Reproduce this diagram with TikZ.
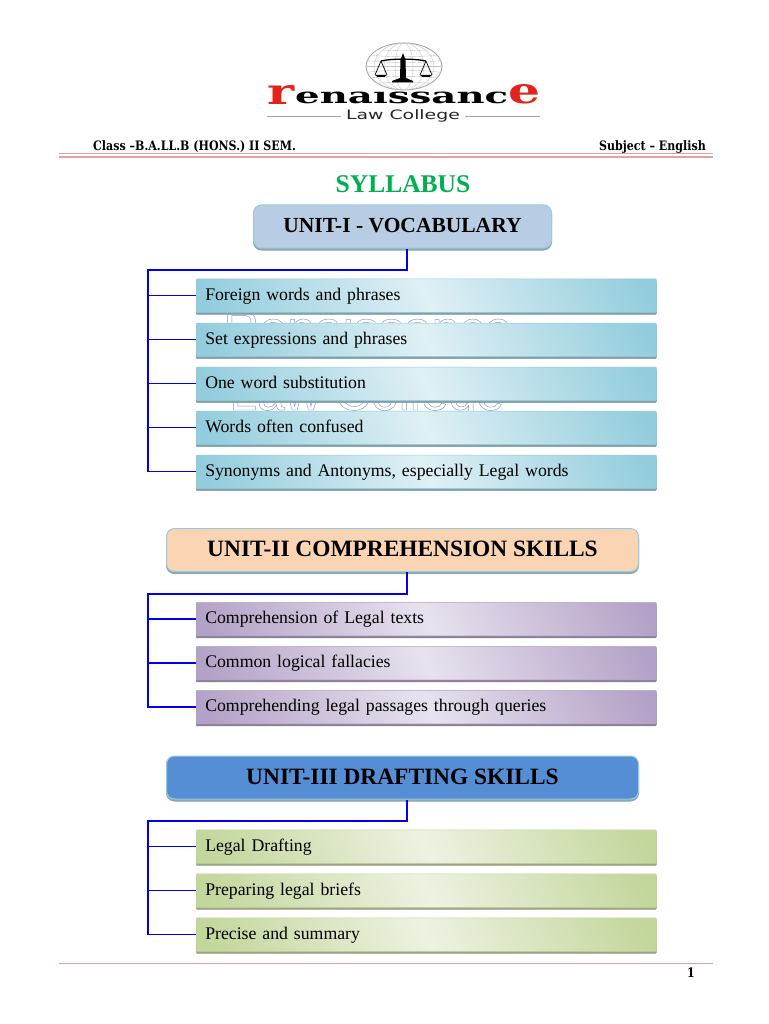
\documentclass[tikz,border=0pt]{standalone}
\usepackage{fontspec}
\usepackage{graphicx}
\setmainfont{Liberation Serif}
\newfontfamily\hdrfont[FakeStretch=0.85]{DejaVu Serif}
\newfontfamily\logofont{DejaVu Serif}
\newfontfamily\logosans{DejaVu Sans}
\newfontfamily\sansf{Liberation Sans}
\definecolor{wire}{RGB}{0,0,238}
\definecolor{rulepink}{RGB}{226,160,158}
\definecolor{aEnd}{RGB}{147,205,221}\definecolor{aMid}{RGB}{224,240,245}\definecolor{aSh}{RGB}{128,158,168}
\definecolor{bEnd}{RGB}{179,162,199}\definecolor{bMid}{RGB}{232,226,238}\definecolor{bSh}{RGB}{140,128,152}
\definecolor{cEnd}{RGB}{195,214,155}\definecolor{cMid}{RGB}{237,242,226}\definecolor{cSh}{RGB}{155,165,132}
\definecolor{logored}{RGB}{225,35,25}
\pgfdeclareverticalshading{gradA}{100bp}{color(0bp)=(aEnd); color(19bp)=(aEnd); color(50bp)=(aMid); color(81bp)=(aEnd); color(100bp)=(aEnd)}
\pgfdeclareverticalshading{gradB}{100bp}{color(0bp)=(bEnd); color(19bp)=(bEnd); color(50bp)=(bMid); color(81bp)=(bEnd); color(100bp)=(bEnd)}
\pgfdeclareverticalshading{gradC}{100bp}{color(0bp)=(cEnd); color(19bp)=(cEnd); color(50bp)=(cMid); color(81bp)=(cEnd); color(100bp)=(cEnd)}
\newcommand{\outlinetext}[1]{\special{pdf:code q 1 Tr 0.45 w 0.5 0.58 0.78 RG}#1\special{pdf:code Q}}
\tikzset{
 wirepath/.style={draw=wire,line width=1.25pt},
 itembox/.style={rectangle,rounded corners=0.8pt,minimum width=460pt,minimum height=33.5pt,text width=442pt,inner xsep=9pt,inner ysep=0pt,
   anchor=west,align=left,text height=12.2pt,text depth=2.8pt,font=\fontsize{17.75}{20}\selectfont},
 shA/.style={itembox,draw=aEnd,line width=0.5pt,shade,shading=gradA,shading angle=115,
   preaction={fill=aSh,draw=aSh,transform canvas={yshift=-2pt}}},
 shB/.style={itembox,draw=bEnd,line width=0.5pt,shade,shading=gradB,shading angle=115,
   preaction={fill=bSh,draw=bSh,transform canvas={yshift=-2pt}}},
 shC/.style={itembox,draw=cEnd,line width=0.5pt,shade,shading=gradC,shading angle=115,
   preaction={fill=cSh,draw=cSh,transform canvas={yshift=-2pt}}},
 unitbox/.style={rectangle,rounded corners=8pt,minimum height=43pt,line width=1pt,draw=#1,inner sep=0pt,
   text height=15pt,text depth=2pt},
 unitshadow/.style={preaction={fill=#1,draw=#1,transform canvas={yshift=-2pt}}},
 hdr/.style={inner sep=0pt,font=\hdrfont\fontsize{13}{15}\bfseries\selectfont},
 wmark/.style={inner sep=0pt,anchor=base west,font=\sansf\fontsize{#1}{#1}\selectfont},
 logotxt/.style={inner sep=0pt,anchor=south west,font=\logofont\bfseries}
}
\begin{document}
\begin{tikzpicture}[x=1pt,y=-1pt]
\useasboundingbox (0,0) rectangle (768,1024);
\fill[white] (0,0) rectangle (768,1024);
% logo: globe
\begin{scope}
\draw[gray!70,line width=0.9pt] (404,66.5) ellipse [x radius=38,y radius=23.5];
\clip (404,66.5) ellipse [x radius=38,y radius=23.5];
\foreach \r in {9,20,30} {\draw[gray!45,line width=0.4pt] (404,66.5) ellipse [x radius=\r,y radius=23.5];}
\foreach \h in {6,12,18} {\draw[gray!45,line width=0.4pt] (366,66.5-\h) .. controls (390,66.5-\h+3) and (418,66.5-\h+3) .. (442,66.5-\h);
 \draw[gray!45,line width=0.4pt] (366,66.5+\h) .. controls (390,66.5+\h-3) and (418,66.5+\h-3) .. (442,66.5+\h);}
\draw[gray!45,line width=0.4pt] (366,66.5) -- (442,66.5);
\end{scope}
% logo: scales
\fill[black] (403,53) -- (405.5,60) -- (406,78) -- (413,81) -- (413,82.5) -- (392,82.5) -- (392,81) -- (400,78) -- (400.5,60) -- cycle;
\draw[black,line width=1.3pt] (381,61) .. controls (392,58.5) and (414,58.5) .. (426,61);
\draw[black,line width=0.7pt] (381,61) -- (375,75) (381,61) -- (387,75) (426,61) -- (420,75) (426,61) -- (432,75);
\fill[black] (375,75) -- (387,75) -- (384.5,77) -- (377.5,77) -- cycle;
\fill[black] (420,75) -- (432,75) -- (429.5,77) -- (422.5,77) -- cycle;
% logo: wordmark
\node[logotxt,text=logored] (logoR) at (267,104.5) {\resizebox{27pt}{19pt}{r}};
\node[logotxt,text=black] (logoMid) at (295,104.5) {\resizebox{213pt}{11.5pt}{enaıssanc}};
\node[logotxt,text=logored] (logoE) at (508,104.5) {\resizebox{32pt}{19pt}{e}};
\node[inner sep=0pt,font=\logosans\fontsize{13}{15}\selectfont,text=black!85] (logoLaw) at (403,116) {\scalebox{1.45}[1]{Law College}};
\coordinate (lawL) at (267,116);
\coordinate (lawR) at (540,116);
\draw[gray!70,line width=0.6pt] (lawL) -- ([xshift=-5pt]logoLaw.west);
\draw[gray!70,line width=0.6pt] ([xshift=5pt]logoLaw.east) -- (lawR);
% header
\node[hdr,anchor=base west] (hl) at (93,150.5) {Class –B.A.LL.B (HONS.) II SEM.};
\node[hdr,anchor=base east] (hr) at (706,150.5) {Subject – English};
\draw[rulepink,line width=1pt] (59,153.7) -- (713,153.7);
\draw[rulepink,line width=1.6pt] (59,157) -- (713,157);
\node[inner sep=0pt,font=\fontsize{25.5}{28}\bfseries\selectfont,text={rgb,255:red,0;green,176;blue,80}] (syl) at (403,184) {SYLLABUS};
% watermark
\node[wmark=50] (wmA) at (223,346) {\outlinetext{Renaissance}};
\node[wmark=50] (wmB) at (229,410) {\outlinetext{Law College}};
% unit I
\node[unitbox=aEnd,unitshadow=aSh!90,font=\fontsize{21.5}{24}\bfseries\selectfont,fill={rgb,255:red,184;green,204;blue,228},minimum width=298pt] (u1) at (402.5,226.5) {UNIT-I - VOCABULARY};
\node[shA] (a1) at (196,295.7) {Foreign words and phrases};
\node[shA] (a2) at (196,339.8) {Set expressions and phrases};
\node[shA] (a3) at (196,383.8) {One word substitution};
\node[shA] (a4) at (196,427.8) {Words often confused};
\node[shA] (a5) at (196,471.8) {Synonyms and Antonyms, especially Legal words};
\coordinate (t1) at (148,270);
\draw[wirepath] ([xshift=4.5pt]u1.south) |- (t1) -- (t1 |- a5.west) -- (a5.west);
\foreach \n in {a1,a2,a3,a4} {\draw[wirepath] (t1 |- \n.west) -- (\n.west);}
% unit II
\node[unitbox=aEnd,unitshadow=aSh!90,font=\fontsize{23.4}{26}\bfseries\selectfont,fill={rgb,255:red,251;green,212;blue,180},minimum width=472pt] (u2) at (402.5,550) {UNIT-II COMPREHENSION SKILLS};
\node[shB] (b1) at (196,619) {Comprehension of Legal texts};
\node[shB] (b2) at (196,663) {Common logical fallacies};
\node[shB] (b3) at (196,707) {Comprehending legal passages through queries};
\coordinate (t2) at (148,594);
\draw[wirepath] ([xshift=4.5pt]u2.south) |- (t2) -- (t2 |- b3.west) -- (b3.west);
\foreach \n in {b1,b2} {\draw[wirepath] (t2 |- \n.west) -- (\n.west);}
% unit III
\node[unitbox=aEnd,unitshadow=aSh!90,font=\fontsize{23.4}{26}\bfseries\selectfont,fill={rgb,255:red,85;green,142;blue,213},minimum width=472pt] (u3) at (402.5,777.5) {UNIT-III DRAFTING SKILLS};
\node[shC] (c1) at (196,846.7) {Legal Drafting};
\node[shC] (c2) at (196,890.5) {Preparing legal briefs};
\node[shC] (c3) at (196,934.5) {Precise and summary};
\coordinate (t3) at (148,821);
\draw[wirepath] ([xshift=4.5pt]u3.south) |- (t3) -- (t3 |- c3.west) -- (c3.west);
\foreach \n in {c1,c2} {\draw[wirepath] (t3 |- \n.west) -- (\n.west);}
% footer
\coordinate (fL) at (59,963);
\coordinate (fR) at (713,963);
\draw[rulepink,line width=1pt] (fL) -- (fR);
\node[hdr,anchor=base east] (pg) at (695,977) {1};
\end{tikzpicture}
\end{document}
